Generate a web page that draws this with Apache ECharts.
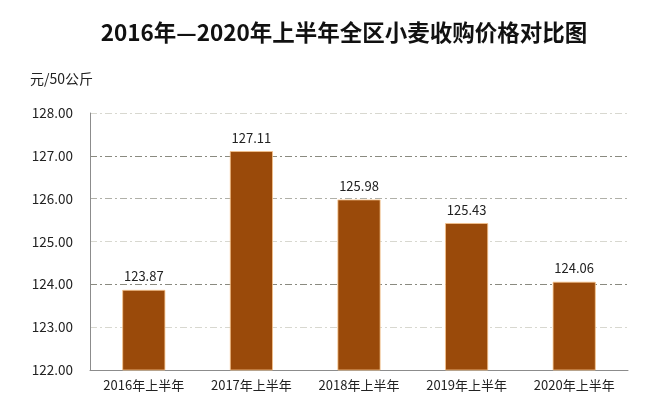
<!DOCTYPE html>
<html>
<head>
<meta charset="utf-8">
<script src="https://cdn.jsdelivr.net/npm/echarts@6/dist/echarts.min.js"></script>
<style>
  html, body { margin: 0; padding: 0; background: #fff; }
  #chart-container { width: 663px; height: 420px; }
</style>
</head>
<body>
<div id="chart-container"></div>
<script>
const categories = ['2016年上半年', '2017年上半年', '2018年上半年', '2019年上半年', '2020年上半年'];
const prices = [123.87, 127.11, 125.98, 125.43, 124.06];
const yTicks = [122, 128, 1]; // min, max, interval

var dom = document.getElementById("chart-container");
var myChart = echarts.init(dom, null, { renderer: "canvas" });
var font = '"Noto Sans CJK SC", "Noto Sans", sans-serif';

var option = {
  backgroundColor: '#fff',
  title: {
    text: '2016年—2020年上半年全区小麦收购价格对比图',
    left: 339,
    textAlign: 'center',
    top: 16,
    textStyle: { fontFamily: font, fontSize: 22.5, fontWeight: 'bold', color: '#111' }
  },
  grid: { left: 90, right: 35, top: 113, bottom: 50 },
  xAxis: {
    type: 'category',
    data: categories,
    axisLine: { lineStyle: { color: '#8c8c8c', width: 1 } },
    axisTick: { show: false },
    axisLabel: { fontFamily: font, fontSize: 13, color: '#222', margin: 9 }
  },
  yAxis: {
    type: 'value',
    min: yTicks[0],
    max: yTicks[1],
    interval: yTicks[2],
    name: '元/50公斤',
    nameLocation: 'end',
    nameGap: 27,
    nameTextStyle: { fontFamily: font, fontSize: 14, color: '#222', align: 'right', padding: [0, -3, 0, 0] },
    axisLine: { show: true, lineStyle: { color: '#8c8c8c', width: 1 } },
    axisTick: { show: false },
    axisLabel: {
      fontFamily: font, fontSize: 13.5, color: '#222', margin: 17,
      formatter: v => v.toFixed(2)
    },
    splitLine: {
      show: true,
      lineStyle: {
        color: ['#cccccc', '#d8d8d0', '#8a8a80', '#d8d8d0', '#b0b0a8', '#8a8a80', '#d8d8d0'],
        type: [7, 3, 2, 3],
        width: 1
      }
    }
  },
  series: [{
    type: 'bar',
    data: prices,
    barWidth: '40%',
    itemStyle: { color: '#9a4a0a', borderColor: '#f7c58e', borderWidth: 0.8 },
    label: {
      show: true,
      position: 'top',
      distance: 7,
      fontFamily: font,
      fontSize: 13,
      color: '#222',
      formatter: p => p.value.toFixed(2)
    }
  }]
};

myChart.setOption(option);
window.addEventListener("resize", myChart.resize);
</script>
</body>
</html>
